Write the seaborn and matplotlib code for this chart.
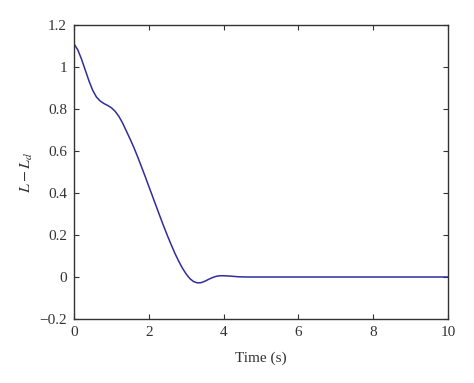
import matplotlib
matplotlib.use("Agg")
import matplotlib.pyplot as plt
import seaborn as sns
import pandas as pd

time_s = [0.0, 0.1, 0.2, 0.3, 0.4, 0.5, 0.6, 0.7, 0.8, 0.9,
          1.0, 1.1, 1.2, 1.3, 1.4, 1.5, 1.6, 1.7, 1.8, 1.9,
          2.0, 2.1, 2.2, 2.3, 2.4, 2.5, 2.6, 2.7, 2.8, 2.9,
          3.0, 3.1, 3.2, 3.3, 3.4, 3.5, 3.6, 3.7, 3.8, 3.9,
          4.0, 4.2, 4.4, 4.6, 5.0, 6.0, 8.0, 10.0]
l_minus_ld = [1.110, 1.082, 1.038, 0.986, 0.934, 0.889, 0.857, 0.838, 0.826, 0.817,
              0.806, 0.789, 0.765, 0.733, 0.695, 0.657, 0.617, 0.573, 0.527, 0.480,
              0.432, 0.384, 0.336, 0.288, 0.241, 0.196, 0.153, 0.112, 0.075, 0.042,
              0.014, -0.008, -0.022, -0.028, -0.027, -0.020, -0.011, -0.003, 0.003, 0.006,
              0.006, 0.004, 0.001, 0.0, 0.0, 0.0, 0.0, 0.0]

x_ticks = [0, 2, 4, 6, 8, 10]
y_ticks = [-0.2, 0, 0.2, 0.4, 0.6, 0.8, 1, 1.2]
y_ticklabels = ["\u22120.2", "0", "0.2", "0.4", "0.6", "0.8", "1", "1.2"]

df = pd.DataFrame({"t": time_s, "v": l_minus_ld})

sns.set_style("ticks")
plt.rcParams["font.family"] = ["Liberation Serif", "DejaVu Serif"]
plt.rcParams["mathtext.fontset"] = "stix"

fig = plt.figure(figsize=(4.74, 3.83), dpi=100)
ax = fig.add_axes([74/474, 1 - 319/383, (448-74)/474, (319-25)/383])

sns.lineplot(data=df, x="t", y="v", ax=ax, color="#2e2e9c", linewidth=1.1)

ax.set_xlim(0, 10)
ax.set_ylim(-0.2, 1.2)
ax.set_xticks(x_ticks)
ax.set_xticklabels([str(v) for v in x_ticks])
ax.set_yticks(y_ticks)
ax.set_yticklabels(y_ticklabels)
ax.tick_params(direction="in", top=True, right=True, length=3.5, width=0.8,
               labelsize=11, colors="#333333", labelcolor="#333333", pad=5)
for s in ax.spines.values():
    s.set_visible(True)
    s.set_color("#333333")
    s.set_linewidth(1.0)

ax.set_xlabel("Time (s)", fontsize=11, color="#333333", labelpad=9)
ax.set_ylabel(r"$L - L_d$", fontsize=11.5, color="#333333", labelpad=3)

fig.savefig("out.png", dpi=100)
